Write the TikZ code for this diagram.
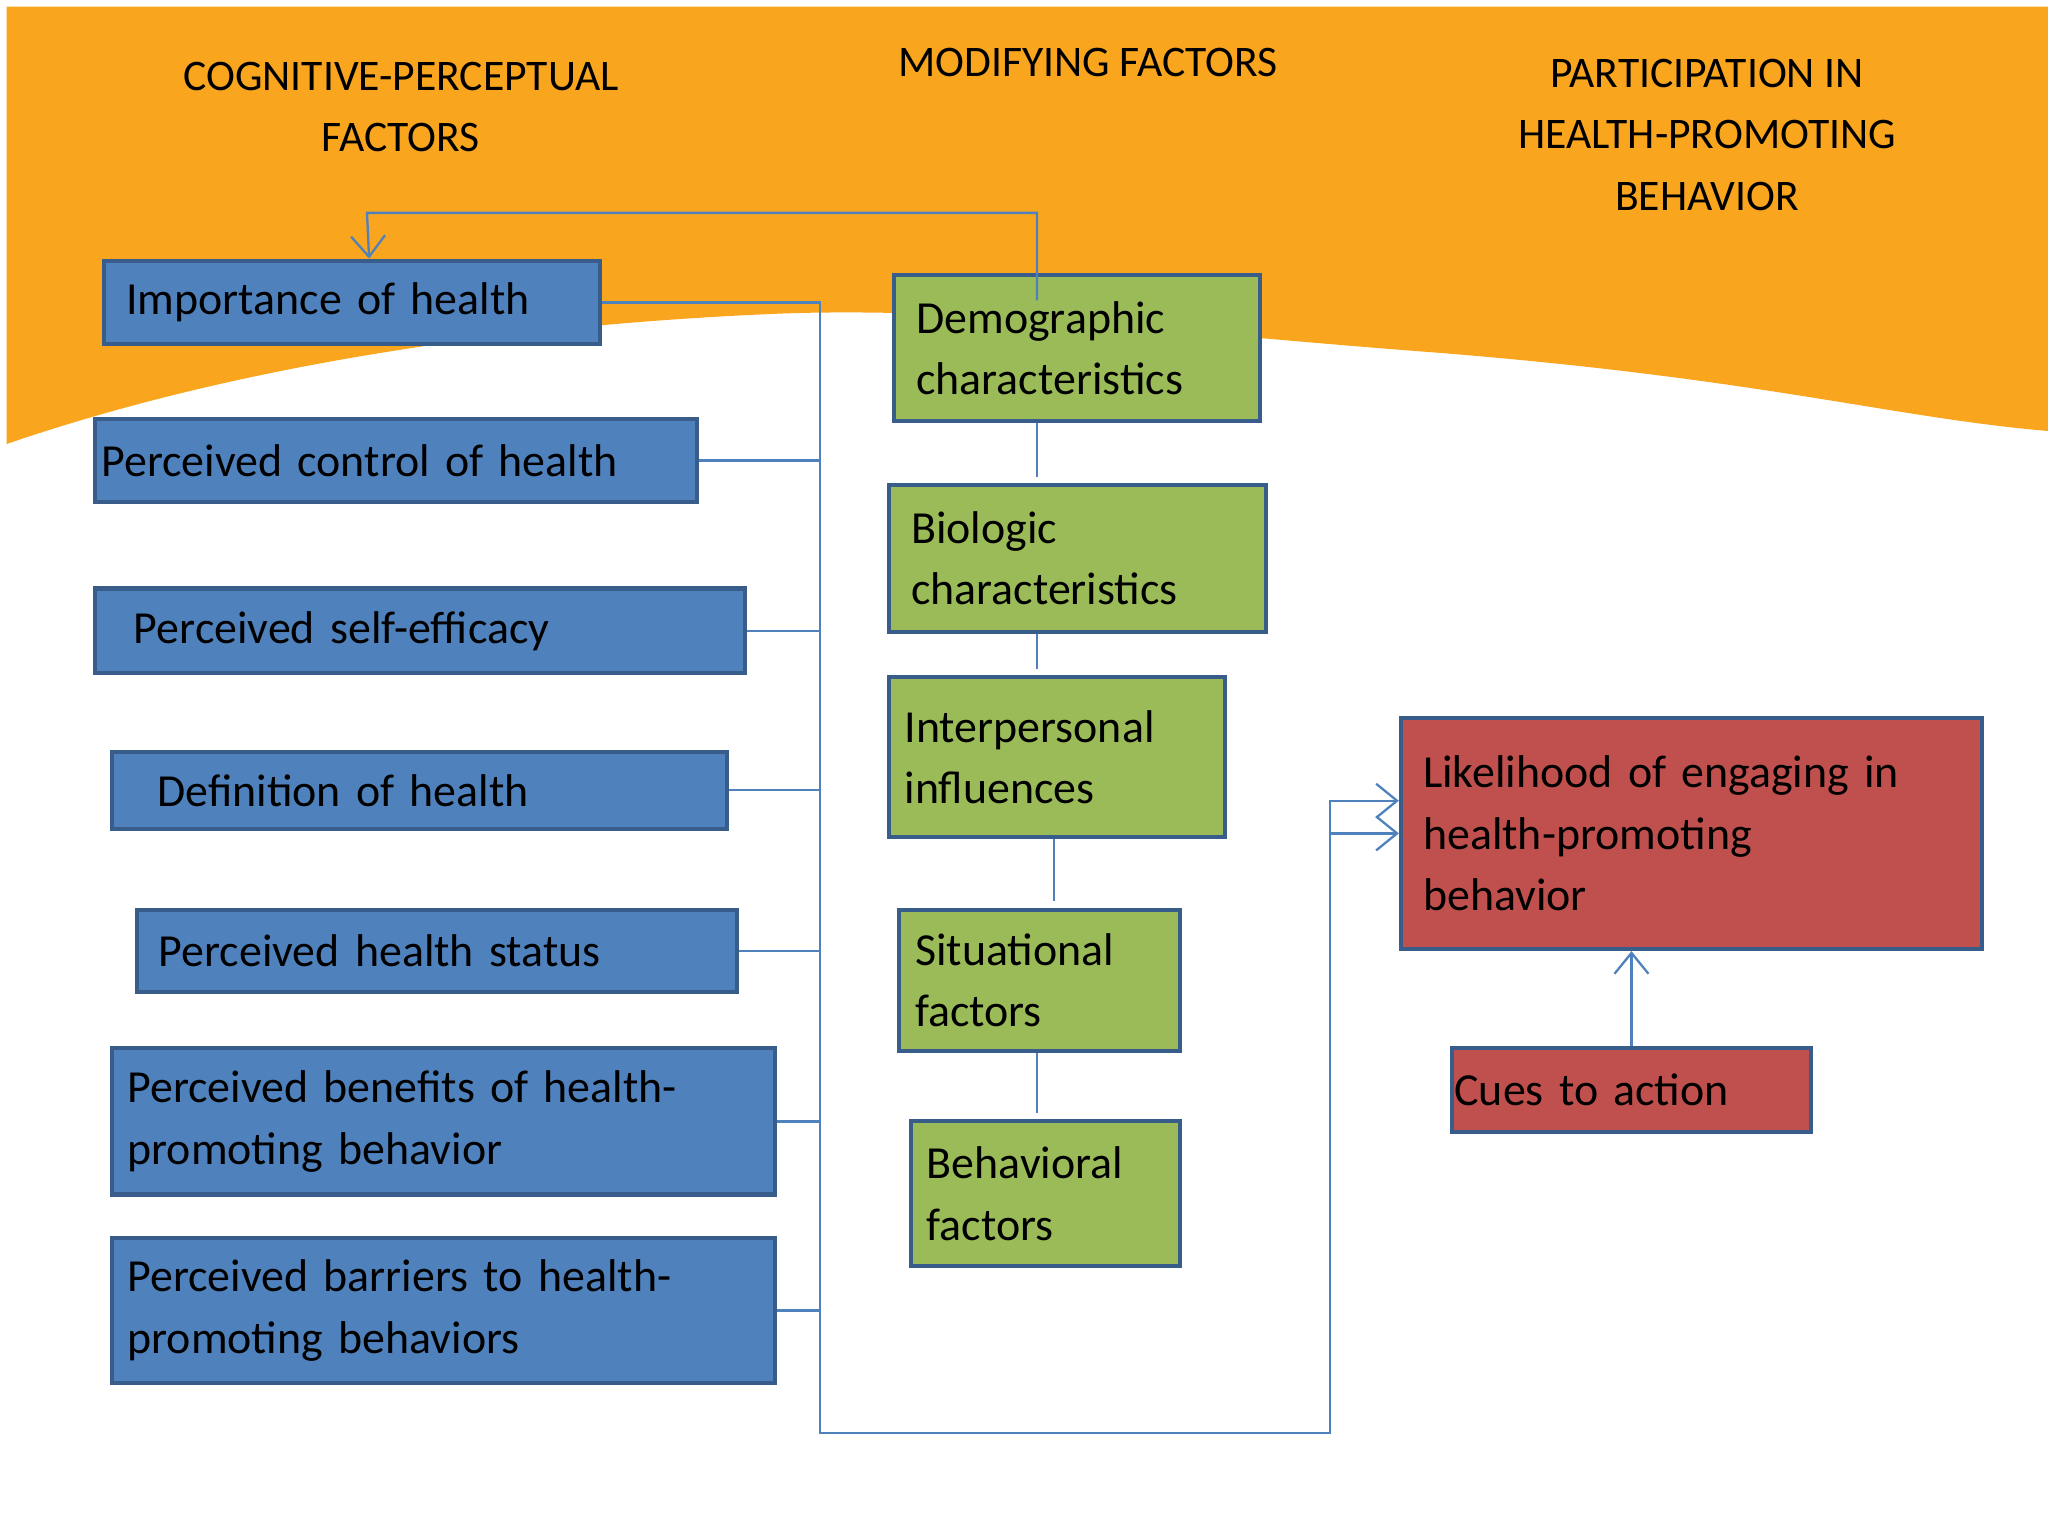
\documentclass[tikz,border=0pt]{standalone}
\usepackage{fontspec}
\setmainfont{Carlito}
\usetikzlibrary{positioning,arrows.meta}
\definecolor{wave}{HTML}{F9A61E}
\definecolor{boxblue}{HTML}{4F81BD}
\definecolor{boxgreen}{HTML}{9BBB59}
\definecolor{boxred}{HTML}{C0504D}
\definecolor{edge}{HTML}{385D8A}
\begin{document}
\begin{tikzpicture}[font=\fontsize{10}{13.4}\selectfont]

        % Setup the styles for the boxes
        \tikzset{box style/.style={draw=edge, line width=0.9pt, anchor=north west,
                                    align=left, inner sep=0.17cm},
                 blue box/.style={box style, fill=boxblue},
                 green box/.style={box style, fill=boxgreen},
                 red box/.style={box style, fill=boxred},
                 link/.style={draw=boxblue, line width=0.5pt},
                 head/.style={align=center, font=\fontsize{9.5}{13.4}\selectfont}}

        \useasboundingbox (0,0) rectangle (15.68,-11.76);

        % Draw the wave
        \fill[wave] (0.05,-0.05) -- (15.68,-0.05) -- (15.68,-3.30)
            .. controls (14.5,-3.2) and (13.5,-2.9) .. (11.0,-2.7)
            .. controls (9.0,-2.55) and (7.5,-2.35) .. (6.0,-2.40)
            .. controls (3.5,-2.5) and (1.5,-2.9) .. (0.05,-3.40) -- cycle;

        % Draw the headings
        \node[head] (cog) at (3.07,-0.82) {COGNITIVE-PERCEPTUAL\\FACTORS};
        \node[head] (mod) at (8.33,-0.48) {MODIFYING FACTORS};
        \node[head] (par) at (13.07,-1.03) {PARTICIPATION IN\\HEALTH-PROMOTING\\BEHAVIOR};

        % Draw the blue boxes
        \node[blue box, text width=3.46cm, minimum height=0.64cm] (imp) at (0.78,-1.98) {Importance of health};
        \node[blue box, text width=4.51cm, minimum height=0.64cm, inner xsep=0.05cm] (ctl) at (0.71,-3.19) {Perceived control of health};
        \node[blue box, text width=4.38cm, minimum height=0.65cm, inner xsep=0.3cm] (eff) at (0.71,-4.49) {Perceived self-efficacy};
        \node[blue box, text width=4.01cm, minimum height=0.59cm, inner xsep=0.35cm] (def) at (0.84,-5.74) {Definition of health};
        \node[blue box, text width=4.26cm, minimum height=0.63cm] (sta) at (1.03,-6.95) {Perceived health status};
        \node[blue box, text width=4.84cm, minimum height=1.12cm, inner xsep=0.12cm] (ben) at (0.84,-8.01) {Perceived benefits of health-\\promoting behavior};
        \node[blue box, text width=4.84cm, minimum height=1.11cm, inner xsep=0.12cm] (bar) at (0.84,-9.46) {Perceived barriers to health-\\promoting behaviors};

        % Draw the green boxes
        \node[green box, text width=2.46cm, minimum height=1.12cm] (demo) at (6.83,-2.09) {Demographic\\characteristics};
        \node[green box, text width=2.55cm, minimum height=1.12cm] (bio) at (6.79,-3.70) {Biologic\\characteristics};
        \node[green box, text width=2.33cm, minimum height=1.22cm, inner xsep=0.12cm] (inter) at (6.79,-5.17) {Interpersonal\\influences};
        \node[green box, text width=1.91cm, minimum height=1.08cm, inner xsep=0.12cm] (sit) at (6.87,-6.95) {Situational\\factors};
        \node[green box, text width=1.82cm, minimum height=1.11cm, inner xsep=0.12cm] (beh) at (6.96,-8.57) {Behavioral\\factors};

        % Draw the red boxes
        \node[red box, text width=4.11cm, minimum height=1.77cm] (like) at (10.71,-5.48) {Likelihood of engaging in\\health-promoting\\behavior};
        \node[red box, text width=2.71cm, minimum height=0.64cm, inner xsep=0.02cm] (cue) at (11.10,-8.01) {Cues to action};

        % Helper coordinates
        \coordinate (bus) at (6.28,-2.30);
        \coordinate (low) at (6.28,-10.97);
        \coordinate (turn) at (10.18,-10.97);
        \coordinate (chain) at (7.94,0);

        % Connect the boxes
        \draw[link] (imp.east) -- (imp.east -| bus) -- (low) -- (turn) |- (like.west)
            [-{Straight Barb[length=1.6mm,width=2.6mm]}] ;
        \draw[link, -{Straight Barb[length=1.6mm,width=2.6mm]}] (turn) |- ([yshift=0.25cm]like.west);
        \foreach \b in {ctl, eff, def, sta, ben, bar}
            \draw[link] (\b.east) -- (\b.east -| bus);
        \draw[link, -{Straight Barb[length=1.6mm,width=2.6mm]}]
            ([yshift=-0.21cm]demo.north -| chain) |- (2.81,-1.63) -- ([xshift=0.13cm]imp.north);
        \draw[link] (demo.south -| chain) -- ([yshift=0.05cm]bio.north -| chain);
        \draw[link] (bio.south -| chain) -- ([yshift=0.05cm]inter.north -| chain);
        \draw[link] ([xshift=0.13cm]inter.south -| chain) -- ([xshift=0.13cm, yshift=0.05cm]sit.north -| chain);
        \draw[link] (sit.south -| chain) -- ([yshift=0.05cm]beh.north -| chain);
        \draw[link, -{Straight Barb[length=1.6mm,width=2.6mm]}] (cue.north) -- (cue.north |- like.south);
    \end{tikzpicture}
\end{document}
